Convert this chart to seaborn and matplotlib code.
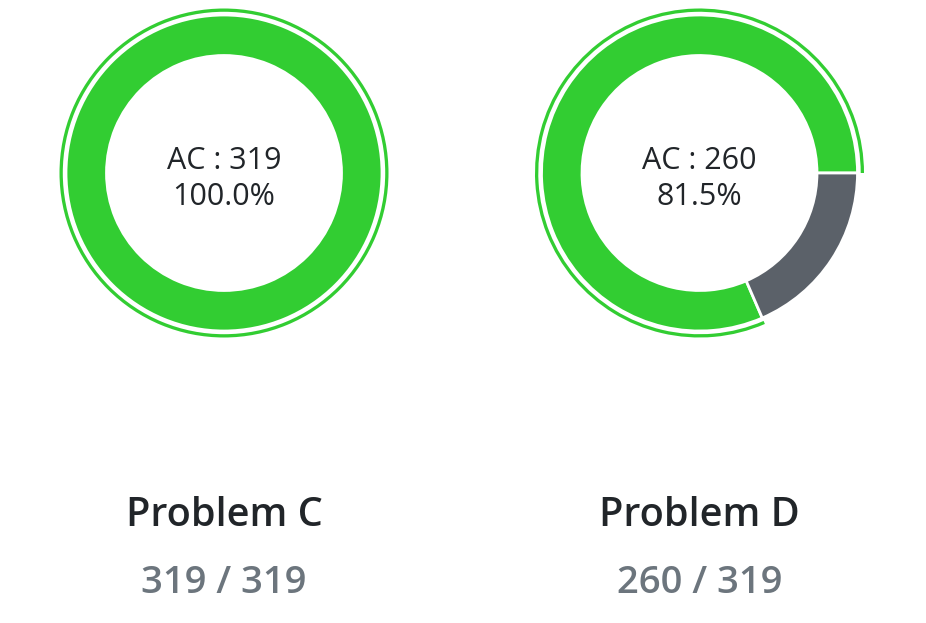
import matplotlib
matplotlib.use("Agg")
import matplotlib.pyplot as plt
import seaborn as sns

problems = ["Problem C", "Problem D"]
ac_counts = [319, 260]
totals = [319, 319]

GREEN = "#32CD32"
GREY = "#5b6169"
DARK = "#212529"
MUTED = "#6c757d"

sns.set_style("white")
plt.rcParams["font.family"] = ["Open Sans", "DejaVu Sans"]

W, H = 926, 623
fig = plt.figure(figsize=(W / 100, H / 100), dpi=100)

centers_x = [224, 699.5]
cy = 173
R = 164.5

for name, ac, total, cx in zip(problems, ac_counts, totals, centers_x):
    ax = fig.add_axes([(cx - R) / W, (H - cy - R) / H, 2 * R / W, 2 * R / H])
    vals = [ac, total - ac]
    cols = [GREEN, GREY]
    keep = [i for i, v in enumerate(vals) if v > 0]
    # outer thin ring: accepted share only
    ax.pie([vals[i] for i in keep], colors=[[GREEN, "none"][i] for i in keep],
           startangle=0, counterclock=True, radius=1.0,
           wedgeprops=dict(width=0.02, edgecolor="none"))
    # inner ring
    ax.pie([vals[i] for i in keep], colors=[cols[i] for i in keep],
           startangle=0, counterclock=True, radius=158 / R,
           wedgeprops=dict(width=(158 - 117.5) / R, edgecolor="white", linewidth=2))
    ax.set_xlim(-1, 1)
    ax.set_ylim(-1, 1)
    ax.set_aspect("equal")
    ax.axis("off")

    pct = 100.0 * ac / total
    fig.text(cx / W, 1 - 161 / H, f"AC : {ac}", ha="center", va="center",
             fontsize=22, color=DARK)
    fig.text(cx / W, 1 - 197 / H, f"{pct:.1f}%", ha="center", va="center",
             fontsize=22, color=DARK)
    fig.text(cx / W, 1 - 516 / H, name, ha="center", va="center",
             fontsize=28.5, fontweight="semibold", color=DARK)
    fig.text(cx / W, 1 - 583 / H, f"{ac} / {total}", ha="center", va="center",
             fontsize=27.5, fontweight="semibold", color=MUTED)

fig.savefig("out.png", dpi=100)
